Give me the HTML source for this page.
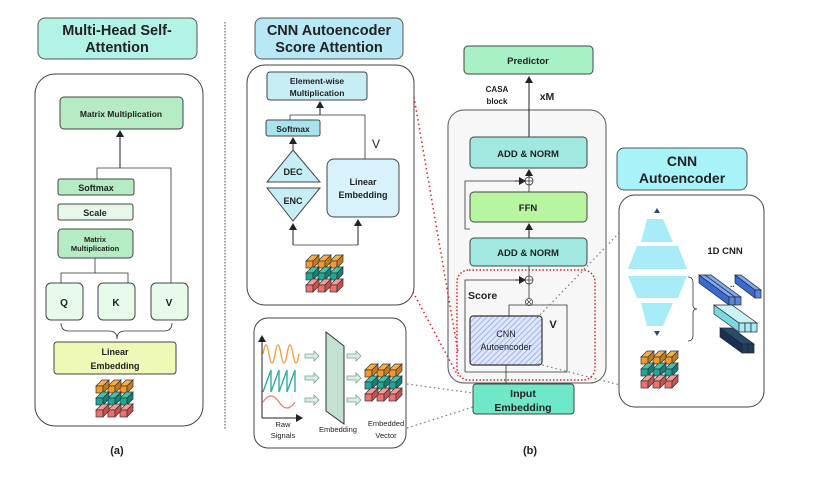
<!DOCTYPE html>
<html><head><meta charset="utf-8"><style>
html,body{margin:0;padding:0;background:#fff}
svg{display:block}
text{font-family:"Liberation Sans",sans-serif;fill:#222}
</style></head><body>
<svg width="817" height="481" viewBox="0 0 817 481" xmlns="http://www.w3.org/2000/svg" font-weight="bold">
<defs>
<marker id="ah" markerWidth="8" markerHeight="8" refX="6" refY="4" orient="auto" markerUnits="userSpaceOnUse"><path d="M0,0 L7,4 L0,8 Z" fill="#222"/></marker>
<pattern id="hatch" width="4" height="4" patternUnits="userSpaceOnUse" patternTransform="rotate(45)"><rect width="4" height="4" fill="#dfe6fb"/><line x1="0" y1="0" x2="0" y2="4" stroke="#8ea4e6" stroke-width="1.5"/></pattern>
<g id="cubes" stroke="#333" stroke-width="0.7">
 <g>
  <path d="M0,6 l6,-6 h7 l-6,6z M12,6 l6,-6 h7 l-6,6z M24,6 l6,-6 h7 l-6,6z" fill="#f5b04a"/>
  <rect x="0" y="6" width="7" height="7" fill="#f39a2a"/><rect x="12" y="6" width="7" height="7" fill="#f39a2a"/><rect x="24" y="6" width="7" height="7" fill="#f39a2a"/>
  <path d="M7,6 l6,-6 v7 l-6,6z M19,6 l6,-6 v7 l-6,6z M31,6 l6,-6 v7 l-6,6z" fill="#c87a1a"/>
 </g>
 <g transform="translate(0,12)">
  <path d="M0,6 l6,-6 h7 l-6,6z M12,6 l6,-6 h7 l-6,6z M24,6 l6,-6 h7 l-6,6z" fill="#3fc4b0"/>
  <rect x="0" y="6" width="7" height="7" fill="#1fa898"/><rect x="12" y="6" width="7" height="7" fill="#1fa898"/><rect x="24" y="6" width="7" height="7" fill="#1fa898"/>
  <path d="M7,6 l6,-6 v7 l-6,6z M19,6 l6,-6 v7 l-6,6z M31,6 l6,-6 v7 l-6,6z" fill="#158074"/>
 </g>
 <g transform="translate(0,24)">
  <path d="M0,6 l6,-6 h7 l-6,6z M12,6 l6,-6 h7 l-6,6z M24,6 l6,-6 h7 l-6,6z" fill="#f79a9a"/>
  <rect x="0" y="6" width="7" height="7" fill="#f07070"/><rect x="12" y="6" width="7" height="7" fill="#f07070"/><rect x="24" y="6" width="7" height="7" fill="#f07070"/>
  <path d="M7,6 l6,-6 v7 l-6,6z M19,6 l6,-6 v7 l-6,6z M31,6 l6,-6 v7 l-6,6z" fill="#c85050"/>
 </g>
</g>
</defs>

<!-- ===== Panel (a) ===== -->
<rect x="38" y="18" width="159" height="41" rx="7" fill="#b3f3e6" stroke="#555" stroke-width="1"/>
<text x="117" y="35" font-size="14.5" text-anchor="middle">Multi-Head Self-</text>
<text x="117" y="52" font-size="14.5" text-anchor="middle">Attention</text>
<rect x="35" y="74" width="168" height="352" rx="20" fill="#fff" stroke="#444" stroke-width="1"/>
<rect x="60" y="97" width="123" height="32" rx="4" fill="#b5ecc4" stroke="#444"/>
<text x="121" y="117" font-size="8.5" text-anchor="middle">Matrix Multiplication</text>
<line x1="120" y1="168" x2="120" y2="131" stroke="#222" stroke-width="1" marker-end="url(#ah)"/>
<polyline points="97,179 97,168 171,168 171,283" fill="none" stroke="#333" stroke-width="0.8"/>
<rect x="58" y="179" width="76" height="16" rx="2" fill="#b5ecc4" stroke="#444"/>
<text x="96" y="191" font-size="9" text-anchor="middle">Softmax</text>
<rect x="58" y="204" width="75" height="16" rx="2" fill="#e6f9ea" stroke="#444"/>
<text x="95" y="216" font-size="9" text-anchor="middle">Scale</text>
<rect x="58" y="229" width="75" height="29" rx="4" fill="#b5ecc4" stroke="#444"/>
<text x="95" y="242" font-size="7.5" text-anchor="middle">Matrix</text>
<text x="95" y="251" font-size="7.5" text-anchor="middle">Multiplication</text>
<polyline points="61,283 61,273 128,273 128,283" fill="none" stroke="#333" stroke-width="0.8"/>
<line x1="95" y1="258" x2="95" y2="273" stroke="#333" stroke-width="0.8"/>
<rect x="46" y="283" width="37" height="37" rx="5" fill="#e6fbe9" stroke="#444"/>
<text x="64" y="306" font-size="10" text-anchor="middle">Q</text>
<rect x="98" y="283" width="37" height="37" rx="5" fill="#e6fbe9" stroke="#444"/>
<text x="116" y="306" font-size="10" text-anchor="middle">K</text>
<rect x="151" y="283" width="37" height="37" rx="5" fill="#e6fbe9" stroke="#444"/>
<text x="169" y="306" font-size="10" text-anchor="middle">V</text>
<path d="M61,323 q0,8 8,8 h40 q8,0 8,8 q0,-8 8,-8 h39 q8,0 8,-8" fill="none" stroke="#333" stroke-width="0.8"/>
<rect x="54" y="342" width="122" height="32" rx="3" fill="#eef9b8" stroke="#444"/>
<text x="115" y="355" font-size="9" text-anchor="middle">Linear</text>
<text x="115" y="369" font-size="9" text-anchor="middle">Embedding</text>
<use href="#cubes" x="96" y="380"/>
<line x1="225" y1="22" x2="225" y2="430" stroke="#444" stroke-width="1" stroke-dasharray="1.5,1.5"/>
<text x="117" y="454" font-size="11" text-anchor="middle">(a)</text>

<!-- ===== Panel middle ===== -->
<rect x="255" y="18" width="148" height="41" rx="7" fill="#b8e8f6" stroke="#555"/>
<text x="329" y="35" font-size="14.5" text-anchor="middle">CNN Autoencoder</text>
<text x="329" y="52" font-size="14.5" text-anchor="middle">Score Attention</text>
<rect x="247" y="65" width="167" height="240" rx="18" fill="#fff" stroke="#444"/>
<rect x="267" y="72" width="100" height="28" rx="3" fill="#c8eef5" stroke="#444"/>
<text x="317" y="84" font-size="8.5" text-anchor="middle">Element-wise</text>
<text x="317" y="96" font-size="8.5" text-anchor="middle">Multiplication</text>
<polyline points="290,120 290,115 365,115 365,159" fill="none" stroke="#333" stroke-width="0.8"/>
<line x1="320" y1="115" x2="320" y2="102" stroke="#222" marker-end="url(#ah)"/>
<rect x="266" y="120" width="54" height="16" rx="2" fill="#a8e4ee" stroke="#444"/>
<text x="293" y="132" font-size="8.5" text-anchor="middle">Softmax</text>
<line x1="293" y1="150" x2="293" y2="138" stroke="#222" marker-end="url(#ah)"/>
<path d="M293,150 L320,182 L267,182 Z" fill="#c8eef5" stroke="#444"/>
<text x="293" y="175" font-size="9" text-anchor="middle">DEC</text>
<path d="M267,188 L320,188 L293,221 Z" fill="#c8eef5" stroke="#444"/>
<text x="293" y="204" font-size="9" text-anchor="middle">ENC</text>
<text x="376" y="148" font-size="12" font-weight="normal" text-anchor="middle">V</text>
<rect x="327" y="159" width="72" height="58" rx="7" fill="#d8f2fb" stroke="#444"/>
<text x="363" y="185" font-size="9" text-anchor="middle">Linear</text>
<text x="363" y="198" font-size="9" text-anchor="middle">Embedding</text>
<polyline points="293,245 358,245" fill="none" stroke="#333" stroke-width="0.8"/>
<line x1="293" y1="245" x2="293" y2="224" stroke="#222" marker-end="url(#ah)"/>
<line x1="358" y1="245" x2="358" y2="220" stroke="#222" marker-end="url(#ah)"/>
<use href="#cubes" x="306" y="255"/>

<rect x="254" y="318" width="152" height="130" rx="14" fill="#fff" stroke="#444"/>
<line x1="262" y1="418" x2="262" y2="336" stroke="#222" marker-end="url(#ah)"/>
<line x1="262" y1="418" x2="302" y2="418" stroke="#222" marker-end="url(#ah)"/>
<path d="M263,354 q3,-18 6,0 t6,0 t6,0 t6,0 t6,0 t6,0" fill="none" stroke="#f6a040" stroke-width="1.4"/>
<path d="M263,392 l8,-22 v22 l8,-22 v22 l8,-22 v22 l8,-22 v22" fill="none" stroke="#2ab0a0" stroke-width="1.4"/>
<path d="M263,402 q8,-12 16,0 t16,0" fill="none" stroke="#f07878" stroke-width="1.2"/>
<g fill="#dceee4" stroke="#7aa090" stroke-width="0.8">
<path d="M305,354 h9 v-3 l5,5 l-5,5 v-3 h-9z"/><path d="M305,376 h9 v-3 l5,5 l-5,5 v-3 h-9z"/><path d="M305,398 h9 v-3 l5,5 l-5,5 v-3 h-9z"/>
<path d="M347,354 h9 v-3 l5,5 l-5,5 v-3 h-9z"/><path d="M347,376 h9 v-3 l5,5 l-5,5 v-3 h-9z"/><path d="M347,398 h9 v-3 l5,5 l-5,5 v-3 h-9z"/>
</g>
<path d="M326,332 L344,346 L344,424 L326,411 Z" fill="#c4e2d3" stroke="#333"/>
<use href="#cubes" x="365" y="364"/>
<text font-size="7.5" font-weight="normal" text-anchor="middle"><tspan x="283" y="427">Raw</tspan><tspan x="283" y="438">Signals</tspan></text>
<text x="338" y="432" font-size="7.5" font-weight="normal" text-anchor="middle">Embedding</text>
<text font-size="7.5" font-weight="normal" text-anchor="middle"><tspan x="386" y="426">Embedded</tspan><tspan x="386" y="438">Vector</tspan></text>

<!-- ===== Panel (b) ===== -->
<rect x="464" y="46" width="129" height="28" rx="4" fill="#a8f0c6" stroke="#444"/>
<text x="528" y="64" font-size="9.5" text-anchor="middle">Predictor</text>
<text x="497" y="92" font-size="8" text-anchor="middle">CASA</text>
<text x="497" y="104" font-size="8" text-anchor="middle">block</text>
<text x="547" y="100" font-size="10.5" text-anchor="middle">xM</text>
<rect x="448" y="110" width="158" height="273" rx="16" fill="#f7f7f7" stroke="#555"/>
<line x1="529" y1="137" x2="529" y2="77" stroke="#222" marker-end="url(#ah)"/>
<rect x="470" y="137" width="117" height="31" rx="4" fill="#a0e8e0" stroke="#444"/>
<text x="528" y="157" font-size="9.5" text-anchor="middle">ADD &amp; NORM</text>
<line x1="529" y1="177" x2="529" y2="170" stroke="#222" marker-end="url(#ah)"/>
<circle cx="529" cy="181" r="4" fill="#fff" stroke="#333" stroke-width="0.8"/>
<path d="M525,181 h8 M529,177 v8" stroke="#333" stroke-width="0.8"/>
<polyline points="470,229 465,229 465,181 520,181" fill="none" stroke="#333" stroke-width="0.8"/>
<line x1="515" y1="181" x2="525" y2="181" stroke="#222" marker-end="url(#ah)"/>
<line x1="529" y1="192" x2="529" y2="185" stroke="#333" stroke-width="0.8"/>
<rect x="470" y="192" width="117" height="30" rx="4" fill="#b8f5a0" stroke="#444"/>
<text x="528" y="211" font-size="9.5" text-anchor="middle">FFN</text>
<line x1="529" y1="238" x2="529" y2="224" stroke="#222" marker-end="url(#ah)"/>
<rect x="470" y="238" width="117" height="28" rx="4" fill="#a0e8e0" stroke="#444"/>
<text x="528" y="256" font-size="9.5" text-anchor="middle">ADD &amp; NORM</text>
<rect x="457" y="270" width="138" height="110" rx="12" fill="none" stroke="#e02020" stroke-width="1.5" stroke-dasharray="1.5,2"/>
<line x1="529" y1="276" x2="529" y2="266" stroke="#333" stroke-width="0.8"/>
<circle cx="529" cy="280" r="4" fill="#fff" stroke="#333" stroke-width="0.8"/>
<path d="M525,280 h8 M529,276 v8" stroke="#333" stroke-width="0.8"/>
<polyline points="465,372 465,280 520,280" fill="none" stroke="#333" stroke-width="0.8"/>
<line x1="515" y1="280" x2="525" y2="280" stroke="#222" marker-end="url(#ah)"/>
<text x="468" y="299" font-size="10.5">Score</text>
<line x1="529" y1="284" x2="529" y2="298" stroke="#333" stroke-width="0.8"/>
<circle cx="529" cy="302" r="3.5" fill="#fff" stroke="#333" stroke-width="0.8"/>
<path d="M527,300 l4,4 M531,300 l-4,4" stroke="#333" stroke-width="0.7"/>
<polyline points="509,316 509,305 567,305 567,372 465,372" fill="none" stroke="#333" stroke-width="0.8"/>
<text x="553" y="328" font-size="11" text-anchor="middle">V</text>
<rect x="470" y="316" width="72" height="49" rx="3" fill="url(#hatch)" stroke="#333" stroke-width="1.2"/>
<text x="506" y="337" font-size="9" font-weight="normal" text-anchor="middle">CNN</text>
<text x="506" y="350" font-size="9" font-weight="normal" text-anchor="middle">Autoencoder</text>
<line x1="506" y1="365" x2="506" y2="384" stroke="#333" stroke-width="0.8"/>
<rect x="473" y="384" width="101" height="30" rx="3" fill="#6ee8c8" stroke="#444"/>
<text x="523" y="397" font-size="10.5" text-anchor="middle">Input</text>
<text x="523" y="411" font-size="10.5" text-anchor="middle">Embedding</text>
<text x="530" y="454" font-size="11" text-anchor="middle">(b)</text>

<!-- connectors -->
<line x1="414" y1="97" x2="458" y2="352" stroke="#e02020" stroke-width="1.5" stroke-dasharray="1.5,3"/>
<line x1="413" y1="292" x2="458" y2="376" stroke="#e02020" stroke-width="1.5" stroke-dasharray="1.5,3"/>
<line x1="407" y1="384" x2="473" y2="393" stroke="#777" stroke-width="1.2" stroke-dasharray="1.5,3"/>
<line x1="407" y1="428" x2="473" y2="407" stroke="#777" stroke-width="1.2" stroke-dasharray="1.5,3"/>
<line x1="537" y1="318" x2="622" y2="230" stroke="#777" stroke-width="1.2" stroke-dasharray="1.5,3"/>
<line x1="538" y1="364" x2="620" y2="385" stroke="#777" stroke-width="1.2" stroke-dasharray="1.5,3"/>

<!-- ===== CNN Autoencoder panel ===== -->
<rect x="617" y="148" width="130" height="42" rx="7" fill="#a8f3f8" stroke="#555"/>
<text x="682" y="166" font-size="14" text-anchor="middle">CNN</text>
<text x="682" y="183" font-size="14" text-anchor="middle">Autoencoder</text>
<rect x="619" y="195" width="145" height="212" rx="16" fill="#fff" stroke="#444"/>
<path d="M657,208 l3,5 h-6z" fill="#2a4a6a"/>
<path d="M647,219 h16 l10,23 h-32z" fill="#a8ecf8"/>
<path d="M637,246 h41 l9,23 h-59z" fill="#a8ecf8"/>
<path d="M628,276 h59 l-9,22 h-41z" fill="#a8ecf8"/>
<path d="M641,303 h32 l-10,23 h-16z" fill="#a8ecf8"/>
<path d="M654,331 h6 l-3,5z" fill="#2a4a6a"/>
<path d="M688,277 q5,0 5,6 v22 q0,4 4,4 q-4,0 -4,4 v22 q0,6 -5,6" fill="none" stroke="#333" stroke-width="0.8"/>
<text x="725" y="254" font-size="9.5" text-anchor="middle">1D CNN</text>
<g stroke="#223" stroke-width="0.7">
 <path d="M699,275 h6 l30,22 h-6z" fill="#7ea8f0"/>
 <path d="M705,275 h6 l30,22 h-6z" fill="#7ea8f0"/>
 <path d="M699,275 l30,22 v8 l-30,-22z" fill="#3a6ad0"/>
 <rect x="729" y="297" width="6" height="8" fill="#5a86e0"/><rect x="735" y="297" width="6" height="8" fill="#5a86e0"/>
 <path d="M735,275 h6 l20,15 h-6z" fill="#7ea8f0"/>
 <path d="M735,275 l20,15 v8 l-20,-15z" fill="#3a6ad0"/>
 <rect x="755" y="290" width="6" height="8" fill="#5a86e0"/>
 <path d="M714,305 h18 l25,18 h-18z" fill="#c8f4f4"/>
 <path d="M714,305 l25,18 v9 l-25,-18z" fill="#7ad8e0"/>
 <rect x="739" y="323" width="6" height="9" fill="#a8ecf0"/><rect x="745" y="323" width="6" height="9" fill="#a8ecf0"/><rect x="751" y="323" width="6" height="9" fill="#a8ecf0"/>
 <path d="M720,328 h12 l22,16 h-12z" fill="#2a4a6a"/>
 <path d="M720,328 l22,16 v9 l-22,-16z" fill="#1a3050"/>
 <rect x="742" y="344" width="6" height="9" fill="#223c5c"/><rect x="748" y="344" width="6" height="9" fill="#223c5c"/>
</g>
<text x="730" y="287" font-size="8">..</text>
<use href="#cubes" x="641" y="351"/>
</svg>
</body></html>
